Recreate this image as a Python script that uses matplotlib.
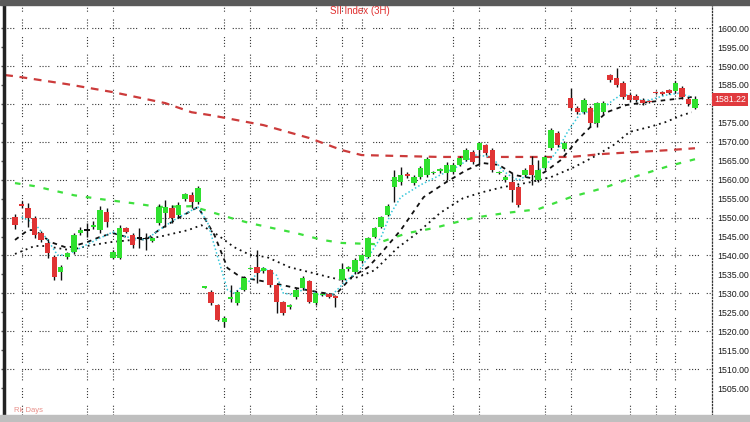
import numpy as np
import matplotlib
matplotlib.use("Agg")
import matplotlib.pyplot as plt
from matplotlib.patches import Rectangle
from matplotlib.transforms import blended_transform_factory

plt.rcParams["font.family"] = ["Liberation Sans", "DejaVu Sans"]

# daily OHLC
opens = [1550.1, 1553.5, 1552.5, 1549.9, 1545.9, 1543.3, 1539.6, 1535.6, 1539.6, 1540.9,
         1545.9, 1546.7, 1547.5, 1546.7, 1551.5, 1539.3, 1539.3, 1547.2, 1545.4, 1544.6,
         1544.5, 1543.9, 1548.5, 1551.2, 1552.5, 1550.6, 1554.9, 1556.0, 1554.1, 1531.5,
         1530.3, 1526.9, 1522.4, 1528.5, 1527.4, 1530.9, 1536.5, 1536.9, 1536.0, 1536.1,
         1532.2, 1527.7, 1526.4, 1529.0, 1531.4, 1533.2, 1527.4, 1529.6, 1529.8, 1529.2,
         1533.5, 1536.3, 1535.6, 1538.5, 1539.6, 1544.9, 1547.5, 1550.8, 1558.0, 1559.4,
         1561.5, 1559.1, 1560.7, 1561.2, 1561.7, 1562.2, 1561.7, 1562.0, 1563.9, 1565.2,
         1567.3, 1567.8, 1569.1, 1567.8, 1561.7, 1559.9, 1559.4, 1558.0, 1561.2, 1563.9,
         1559.9, 1563.1, 1568.3, 1572.3, 1568.1, 1581.5, 1578.9, 1577.8, 1578.9, 1574.9,
         1577.8, 1587.6, 1586.8, 1585.5, 1582.3, 1582.1, 1581.0, 1580.8, 1583.2, 1583.2,
         1583.6, 1583.4, 1584.2, 1581.3, 1579.0]
highs = [1551.0, 1554.5, 1553.8, 1550.5, 1546.5, 1544.1, 1540.0, 1537.5, 1541.0, 1546.0,
         1547.5, 1548.5, 1549.0, 1553.0, 1552.5, 1541.5, 1548.0, 1547.5, 1546.0, 1547.2,
         1546.0, 1545.0, 1553.5, 1554.6, 1553.3, 1554.0, 1556.5, 1556.7, 1558.3, 1532.0,
         1531.0, 1527.3, 1524.0, 1532.2, 1531.0, 1534.5, 1537.0, 1541.4, 1537.0, 1536.5,
         1532.5, 1528.0, 1527.3, 1531.3, 1534.5, 1533.5, 1530.5, 1530.2, 1530.0, 1529.5,
         1538.0, 1537.3, 1539.3, 1540.5, 1545.0, 1547.6, 1550.5, 1553.6, 1562.5, 1563.3,
         1562.0, 1561.2, 1563.6, 1566.0, 1562.3, 1563.2, 1564.6, 1564.4, 1566.2, 1568.3,
         1567.8, 1570.0, 1569.5, 1568.3, 1562.3, 1561.2, 1561.7, 1558.5, 1563.0, 1566.2,
         1565.2, 1566.5, 1573.6, 1572.8, 1570.2, 1584.2, 1579.4, 1581.5, 1579.4, 1580.5,
         1580.7, 1588.0, 1589.4, 1586.0, 1582.8, 1582.5, 1581.5, 1581.0, 1583.4, 1583.5,
         1583.9, 1586.0, 1584.7, 1581.8, 1582.0]
lows = [1547.0, 1552.5, 1547.5, 1544.5, 1543.5, 1539.3, 1533.5, 1533.5, 1539.0, 1540.5,
        1545.5, 1545.0, 1547.0, 1546.0, 1547.5, 1539.0, 1539.0, 1546.0, 1542.0, 1542.0,
        1541.4, 1543.5, 1548.0, 1547.5, 1548.5, 1550.0, 1554.5, 1552.5, 1553.5, 1531.3,
        1527.0, 1522.6, 1521.1, 1527.7, 1527.0, 1530.5, 1536.3, 1532.7, 1535.5, 1531.8,
        1524.8, 1524.4, 1526.0, 1528.6, 1531.0, 1527.4, 1527.0, 1529.4, 1528.7, 1526.4,
        1533.0, 1536.0, 1535.2, 1538.0, 1539.3, 1544.6, 1547.2, 1550.4, 1554.1, 1558.5,
        1560.5, 1558.6, 1560.2, 1560.7, 1561.4, 1561.8, 1559.9, 1561.5, 1563.5, 1564.8,
        1564.1, 1563.9, 1566.5, 1562.0, 1561.4, 1559.4, 1554.1, 1552.8, 1560.7, 1558.6,
        1559.4, 1562.5, 1567.8, 1568.6, 1567.6, 1578.4, 1577.3, 1577.3, 1573.9, 1573.9,
        1577.3, 1585.8, 1584.5, 1581.3, 1580.5, 1580.5, 1579.7, 1580.3, 1582.7, 1582.4,
        1582.6, 1583.0, 1581.3, 1579.5, 1578.7]
closes = [1548.0, 1553.0, 1549.9, 1545.4, 1544.0, 1540.6, 1534.3, 1537.0, 1540.6, 1545.4,
          1546.7, 1546.7, 1548.0, 1552.0, 1548.8, 1541.0, 1547.2, 1546.2, 1542.7, 1544.6,
          1544.5, 1544.6, 1552.7, 1552.8, 1549.9, 1553.3, 1556.2, 1554.1, 1557.8, 1531.8,
          1527.4, 1523.0, 1523.5, 1529.0, 1530.3, 1534.0, 1536.8, 1535.4, 1536.6, 1532.2,
          1527.7, 1524.8, 1526.9, 1530.9, 1534.0, 1527.7, 1530.0, 1529.9, 1529.0, 1528.8,
          1536.4, 1537.0, 1538.8, 1540.1, 1544.6, 1547.2, 1550.1, 1553.0, 1560.7, 1561.2,
          1561.0, 1560.7, 1563.1, 1565.4, 1562.0, 1562.8, 1563.9, 1563.9, 1565.7, 1567.8,
          1564.6, 1569.7, 1567.0, 1562.5, 1562.0, 1560.7, 1557.3, 1553.3, 1562.5, 1561.2,
          1562.5, 1566.0, 1573.1, 1569.1, 1569.7, 1578.9, 1577.8, 1581.0, 1574.9, 1580.2,
          1580.2, 1586.3, 1585.0, 1581.8, 1581.0, 1581.0, 1580.2, 1580.5, 1582.9, 1582.6,
          1582.9, 1585.5, 1581.8, 1580.0, 1581.22]

# moving averages (bar index, price)
ma_fast_x = [1, 3, 5, 6.5, 8, 10, 13, 15, 17, 20, 22, 25, 28, 29.5, 31, 32.5, 33.5, 35.5,
             38, 40, 41, 42.5, 44.5, 46.5, 48.5, 50, 53, 55, 56, 57.5, 59, 62, 65, 67.5,
             70.5, 73, 74.5, 76, 77, 79, 81, 83, 84.5, 86.5, 89.5, 91.5, 93, 95, 97, 99.5,
             101.5, 103.5]
ma_fast_y = [1550.1, 1548.5, 1544.1, 1540.1, 1540.1, 1542.0, 1544.6, 1546.2, 1544.9, 1544.1,
             1546.7, 1550.1, 1552.8, 1548.5, 1539.6, 1530.9, 1530.1, 1532.7, 1536.7, 1534.8,
             1530.1, 1529.6, 1531.4, 1529.6, 1529.6, 1532.2, 1536.9, 1542.2, 1544.9, 1551.2,
             1555.4, 1558.6, 1561.2, 1563.3, 1566.5, 1566.0, 1562.5, 1560.7, 1559.9, 1561.7,
             1563.3, 1567.8, 1572.6, 1577.6, 1578.4, 1581.0, 1582.8, 1581.0, 1581.0, 1582.3,
             1582.8, 1581.8]

ma_mid_x = [0, 2, 3, 5.5, 8, 11, 13, 15, 17, 20, 22, 25, 28, 30.5, 32.5, 34.5, 39.5, 43,
            46.5, 49, 51.5, 54, 56, 59, 62.5, 66, 69, 71.5, 74, 76.5, 79, 81, 83.5, 86, 88,
            90.5, 93.5, 95.5, 99.5, 103.5]
ma_mid_y = [1544.1, 1546.7, 1546.7, 1543.5, 1542.0, 1543.5, 1544.9, 1545.9, 1544.9, 1544.1,
            1546.7, 1549.9, 1552.8, 1545.4, 1536.7, 1534.3, 1532.7, 1531.4, 1530.3, 1529.6,
            1534.3, 1536.9, 1540.6, 1546.7, 1555.4, 1559.4, 1562.5, 1564.4, 1563.9, 1561.2,
            1560.4, 1562.0, 1565.2, 1570.4, 1573.9, 1577.8, 1579.7, 1580.2, 1581.0, 1581.8]

ma_slow_x = [0, 3, 4.5, 8.5, 11, 14.5, 18, 22, 26.5, 28.5, 31, 33.5, 36, 38.5, 42, 45.5,
             48, 50, 52.5, 55, 58.5, 61.5, 65, 68.5, 71.5, 74.5, 79, 82, 85.5, 88.5, 91.5,
             94, 97, 99.5, 102, 103.5]
ma_slow_y = [1540.4, 1542.5, 1542.5, 1541.4, 1542.5, 1543.5, 1544.1, 1544.9, 1546.7, 1548.0,
             1545.4, 1542.2, 1540.1, 1539.6, 1536.9, 1535.4, 1534.3, 1533.5, 1534.3, 1536.1,
             1542.0, 1545.9, 1551.2, 1555.1, 1556.7, 1558.0, 1559.4, 1560.7, 1563.3, 1566.0,
             1569.1, 1572.6, 1573.9, 1575.2, 1577.0, 1577.8]

ma_100_x = [0, 3, 5, 9, 13, 18, 22, 27, 29, 33, 36, 40, 43, 47, 50, 55, 60, 64, 70, 75,
            80, 85, 90, 95, 100, 104]
ma_100_y = [1559.1, 1558.3, 1557.5, 1555.9, 1554.9, 1553.8, 1552.8, 1553.0, 1552.0, 1549.9,
            1548.5, 1547.0, 1545.9, 1544.1, 1543.3, 1543.0, 1545.9, 1547.2, 1549.9, 1551.2,
            1552.2, 1555.4, 1557.8, 1560.9, 1563.6, 1565.4]

ma_200_x = [-1.5, 0, 8, 15, 23, 27, 30, 38, 45, 50, 53, 60, 65, 77, 85, 90, 95, 100, 104]
ma_200_y = [1587.6, 1587.3, 1585.2, 1583.1, 1580.2, 1577.8, 1577.0, 1574.4, 1571.0, 1567.8,
            1566.5, 1566.2, 1566.0, 1566.0, 1566.0, 1566.8, 1567.3, 1567.8, 1568.3]

price_ticks = list(range(1505, 1601, 5))
grid_levels = list(range(1510, 1601, 10))
date_grid = [1, 11, 15, 32, 36, 46, 50, 53, 67, 71, 81, 85, 94, 98, 101]
last_price = closes[-1]

GREEN = "#2fe02f"
RED = "#e03434"

fig = plt.figure(figsize=(7.5, 4.22), dpi=100)
fig.patch.set_facecolor("white")
# frame bars top and bottom
fig.patches.append(Rectangle((0, 1 - 5 / 422), 1, 5 / 422, transform=fig.transFigure,
                             color="#5a5a5a", zorder=0))
fig.patches.append(Rectangle((0, 0), 1, 7 / 422, transform=fig.transFigure,
                             color="#bfbfbf", zorder=0))

ax = fig.add_axes([4 / 750, 7 / 422, (712 - 4) / 750, (417 - 7) / 422])
ax.set_xlim(-1.68, 106.6)
ax.set_ylim(1497.9, 1606.1)

o = np.array(opens)
c = np.array(closes)
h = np.array(highs)
l = np.array(lows)
x = np.arange(len(o))

# grid: short runs of dots, like the original
grid_style = dict(color="#333333", lw=0.8,
                  linestyle=(0, (1, 1.6, 1, 1.6, 1, 1.6, 1, 7)), zorder=1)
for lvl in grid_levels:
    ax.axhline(lvl, **grid_style)
for gx in date_grid:
    ax.axvline(gx, **grid_style)

# moving averages
ax.plot(ma_200_x, ma_200_y, color="#cc3b3b", lw=1.6, dashes=(3.5, 3), zorder=2)
ax.plot(ma_100_x, ma_100_y, color="#3ee03e", lw=1.6, dashes=(2.5, 4), zorder=2)
ax.plot(ma_slow_x, ma_slow_y, color="#111111", lw=1.3, dashes=(1, 2.2), zorder=2)
ax.plot(ma_mid_x, ma_mid_y, color="#111111", lw=1.3, dashes=(2.5, 2.5), zorder=2)
ax.plot(ma_fast_x, ma_fast_y, color="#36c8dc", lw=1.1, dashes=(1, 1.5), zorder=2)

# candles
ax.vlines(x, l, h, color="#111111", lw=1.0, zorder=3)
diff = c - o
colors = np.where(np.abs(diff) < 0.05, "#111111", np.where(diff > 0, GREEN, RED))
body = np.where(np.abs(diff) < 0.35, 0.35, np.abs(diff))
bottom = np.where(np.abs(diff) < 0.35, (o + c) / 2 - 0.175, np.minimum(o, c))
ax.bar(x, body, bottom=bottom, width=0.82, color=colors, linewidth=0, zorder=4)

# axes styling
for side in ("top", "bottom"):
    ax.spines[side].set_visible(False)
ax.spines["left"].set_color("#222222")
ax.spines["left"].set_linewidth(2.5)
ax.spines["right"].set_color("#333333")
ax.spines["right"].set_linewidth(0.9)
ax.spines["right"].set_linestyle((0, (1, 1.6)))
ax.set_xticks([])
ax.set_yticks(price_ticks)
# the label under the last-price tag is hidden by it
ax.set_yticklabels(["" if abs(v - last_price) < 2.5 else f"{v:.2f}" for v in price_ticks])
ax.tick_params(axis="y", left=True, right=False, labelleft=False, labelright=True,
               length=2, width=1, color="#555555", labelsize=6.3, pad=1.5,
               labelcolor="#1a1a1a")

# last price tag
trans = blended_transform_factory(ax.transAxes, ax.transData)
ax.text(1.003, last_price, f"{last_price:.2f}", transform=trans, ha="left", va="center",
        fontsize=6.3, color="white", zorder=10, clip_on=False,
        bbox=dict(boxstyle="square,pad=0.2", fc="#e03a3e", ec="none"))

fig.text(0.48, 1 - 11 / 422, "SII Index (3H)", color="#e03030", fontsize=7,
         ha="center", va="center")
fig.text(14 / 750, 12 / 422, "Rk Days", color="#e8908a", fontsize=5.5,
         ha="left", va="center")

fig.savefig("out.png", dpi=100)
plt.close(fig)
